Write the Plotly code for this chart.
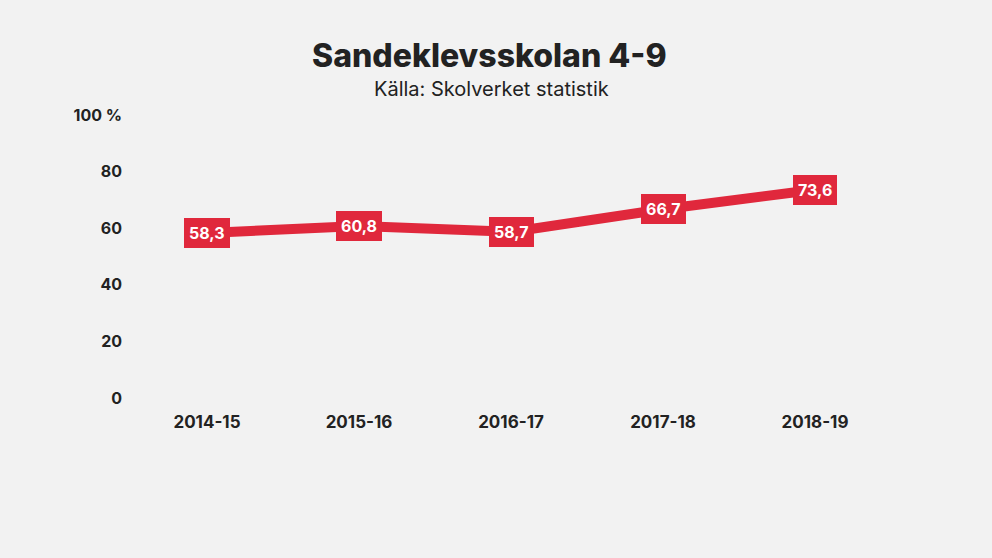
import plotly.graph_objects as go

categories = ["2014-15", "2015-16", "2016-17", "2017-18", "2018-19"]
values = [58.3, 60.8, 58.7, 66.7, 73.6]
value_labels = ["58,3", "60,8", "58,7", "66,7", "73,6"]
y_ticks = [0, 20, 40, 60, 80, 100]
y_tick_labels = ["0", "20", "40", "60", "80", "100 %"]
title_text = "Sandeklevsskolan 4-9"
subtitle_text = "Källa: Skolverket statistik"

RED = "#e0283c"
BG = "#f2f2f2"
TXT = "#222222"
FONT = "Inter, Roboto, sans-serif"

fig = go.Figure()
fig.add_trace(go.Scatter(
    x=categories, y=values, mode="lines",
    line=dict(color=RED, width=10), hoverinfo="skip", showlegend=False,
))

for c, v, lab in zip(categories, values, value_labels):
    fig.add_annotation(
        x=c, y=v, xref="x", yref="y", text=lab, showarrow=False,
        font=dict(family=FONT, size=16, color="white", weight=700),
        bgcolor=RED, borderpad=5, bordercolor=RED, borderwidth=0,
    )

# plot area spans y pixels 115..398 (283 px); convert to paper coords
fig.add_annotation(
    x=0.5, y=(398 - 55) / 283, xref="paper", yref="paper",
    xanchor="center", yanchor="middle", text=title_text, showarrow=False,
    font=dict(family=FONT, size=32, color=TXT, weight=800),
    xshift=-22,
)
fig.add_annotation(
    x=0.5, y=(398 - 89) / 283, xref="paper", yref="paper",
    xanchor="center", yanchor="middle", text=subtitle_text, showarrow=False,
    font=dict(family=FONT, size=20, color=TXT, weight=400),
    xshift=-20,
)

fig.update_layout(
    width=992, height=558,
    paper_bgcolor=BG, plot_bgcolor=BG,
    margin=dict(l=131, r=101, t=115, b=160),
    xaxis=dict(
        type="category", range=[-0.5, 4.5], showgrid=False, zeroline=False,
        showline=False, ticks="", ticklen=0, ticklabelstandoff=12,
        tickfont=dict(family=FONT, size=17, color=TXT, weight=700),
        fixedrange=True,
    ),
    yaxis=dict(
        range=[0, 100], tickvals=y_ticks, ticktext=y_tick_labels,
        showgrid=False, zeroline=False, showline=False, ticks="",
        ticklabelstandoff=8,
        tickfont=dict(family=FONT, size=16, color=TXT, weight=700),
        fixedrange=True,
    ),
)

fig.write_html("out.html")
